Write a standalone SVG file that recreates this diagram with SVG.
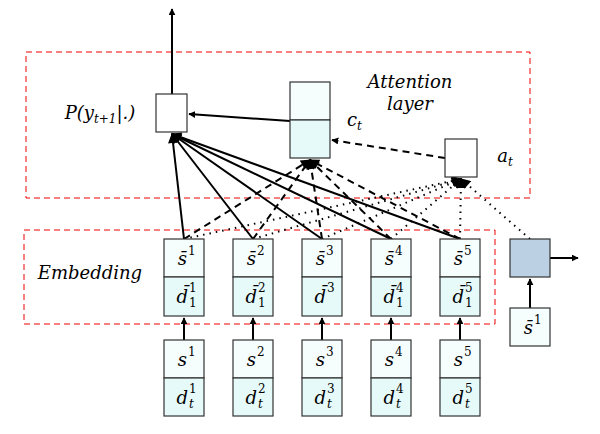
<svg xmlns="http://www.w3.org/2000/svg" width="600" height="434" viewBox="0 0 600 434">
<defs>
<marker id="ah" viewBox="0 0 10 10" refX="9" refY="5" markerWidth="7" markerHeight="7" orient="auto" markerUnits="userSpaceOnUse"><path d="M0,0L10,5L0,10z" fill="#000"/></marker>
<marker id="ahs" viewBox="0 0 10 10" refX="9" refY="5" markerWidth="12" markerHeight="10" orient="auto" markerUnits="userSpaceOnUse"><path d="M0,0L10,5L0,10z" fill="#000"/></marker>
</defs>
<style>
.b{stroke:#333;stroke-width:1.2}
.t{fill:#f5fdfd}.l{fill:#e6fafa}
text{font-family:"DejaVu Serif","Liberation Serif",serif;font-style:italic}
.tx{font-size:18px;text-anchor:middle}
.m{font-size:18px;text-anchor:end}
.s{font-size:12px;font-style:normal;text-anchor:start}
.s.i{font-style:italic}
.red{fill:none;stroke:#e00;stroke-width:1;stroke-dasharray:6,4}
.c{stroke:#000;stroke-width:2;fill:none}
.d{stroke:#000;stroke-width:2;fill:none;stroke-dasharray:7,5}
.o{stroke:#000;stroke-width:2;fill:none;stroke-dasharray:1.5,5}
</style>
<rect class="red" x="26" y="52" width="504" height="146"/>
<rect class="red" x="24" y="230" width="471" height="94"/>
<text class="tx" x="410" y="88">Attention</text>
<text class="tx" x="410" y="110">layer</text>
<text class="tx" x="90" y="279">Embedding</text>
<g id="connectors">
<line class="c" x1="172" y1="94" x2="172" y2="9" marker-end="url(#ah)"/>
<line class="c" x1="290" y1="121" x2="189" y2="114" marker-end="url(#ah)"/>
<line class="d" x1="445" y1="158" x2="332" y2="140" marker-end="url(#ah)"/>
<g marker-end="url(#ahs)">
<line class="c" x1="184" y1="239" x2="172" y2="134"/>
<line class="c" x1="253" y1="239" x2="172" y2="134"/>
<line class="c" x1="322" y1="239" x2="172" y2="134"/>
<line class="c" x1="391" y1="239" x2="172" y2="134"/>
<line class="c" x1="460" y1="239" x2="172" y2="134"/>
<line class="d" x1="184" y1="239" x2="310" y2="160"/>
<line class="d" x1="253" y1="239" x2="310" y2="160"/>
<line class="d" x1="322" y1="239" x2="310" y2="160"/>
<line class="d" x1="391" y1="239" x2="310" y2="160"/>
<line class="d" x1="460" y1="239" x2="310" y2="160"/>
<line class="o" x1="184" y1="239" x2="461" y2="179"/>
<line class="o" x1="253" y1="239" x2="461" y2="179"/>
<line class="o" x1="322" y1="239" x2="461" y2="179"/>
<line class="o" x1="391" y1="239" x2="461" y2="179"/>
<line class="o" x1="460" y1="239" x2="461" y2="179"/>
<line class="o" x1="530" y1="239" x2="461" y2="179"/>
</g>
<line class="c" x1="184" y1="340" x2="184" y2="318" marker-end="url(#ah)"/>
<line class="c" x1="253" y1="340" x2="253" y2="318" marker-end="url(#ah)"/>
<line class="c" x1="322" y1="340" x2="322" y2="318" marker-end="url(#ah)"/>
<line class="c" x1="391" y1="340" x2="391" y2="318" marker-end="url(#ah)"/>
<line class="c" x1="460" y1="340" x2="460" y2="318" marker-end="url(#ah)"/>
<line class="c" x1="530" y1="308" x2="530" y2="279" marker-end="url(#ah)"/>
<line class="c" x1="550" y1="258" x2="578" y2="258" marker-end="url(#ah)"/>
</g>
<g id="P"><rect class="b" fill="#fff" x="156" y="94" width="31" height="38"/>
<text class="tx" x="100" y="119">P(y<tspan font-size="12" dy="4">t+1</tspan><tspan dy="-4">|.)</tspan></text></g>
<g id="ct"><rect class="b t" x="290" y="82" width="40" height="38"/><rect class="b l" x="290" y="120" width="40" height="38"/>
<text class="m" x="357" y="126">c</text><text class="s i" x="357" y="130">t</text></g>
<g id="at"><rect class="b" fill="#fff" x="445" y="139" width="32" height="38"/>
<text class="m" x="508" y="162">a</text><text class="s i" x="508" y="166">t</text></g>
<g id="blue"><rect class="b" fill="#bcd0e3" x="510" y="239" width="40" height="38"/></g>
<g id="sb"><rect class="b t" x="510" y="308" width="40" height="38"/><text class="m" x="533" y="334">s̄</text><text class="s" x="534" y="324">1</text></g>
<g id="e1"><rect class="b t" x="164" y="239" width="40" height="38"/><rect class="b l" x="164" y="277" width="40" height="39"/>
<text class="m" x="187" y="265">s̄</text><text class="s" x="188" y="255">1</text>
<text class="m" x="188" y="303">d̄</text><text class="s" x="189" y="292">1</text><text class="s" x="189" y="307">1</text></g>
<g id="e2"><rect class="b t" x="233" y="239" width="40" height="38"/><rect class="b l" x="233" y="277" width="40" height="39"/>
<text class="m" x="256" y="265">s̄</text><text class="s" x="257" y="255">2</text>
<text class="m" x="257" y="303">d̄</text><text class="s" x="258" y="292">2</text><text class="s" x="258" y="307">1</text></g>
<g id="e3"><rect class="b t" x="302" y="239" width="40" height="38"/><rect class="b l" x="302" y="277" width="40" height="39"/>
<text class="m" x="325" y="265">s̄</text><text class="s" x="326" y="255">3</text>
<text class="m" x="326" y="303">d̄</text><text class="s" x="327" y="292">3</text></g>
<g id="e4"><rect class="b t" x="371" y="239" width="40" height="38"/><rect class="b l" x="371" y="277" width="40" height="39"/>
<text class="m" x="394" y="265">s̄</text><text class="s" x="395" y="255">4</text>
<text class="m" x="395" y="303">d̄</text><text class="s" x="396" y="292">4</text><text class="s" x="396" y="307">1</text></g>
<g id="e5"><rect class="b t" x="440" y="239" width="40" height="38"/><rect class="b l" x="440" y="277" width="40" height="39"/>
<text class="m" x="463" y="265">s̄</text><text class="s" x="464" y="255">5</text>
<text class="m" x="464" y="303">d̄</text><text class="s" x="465" y="292">5</text><text class="s" x="465" y="307">1</text></g>
<g id="i1"><rect class="b t" x="164" y="340" width="40" height="38"/><rect class="b l" x="164" y="378" width="40" height="38"/>
<text class="m" x="187" y="366">s</text><text class="s" x="188" y="356">1</text>
<text class="m" x="188" y="404">d</text><text class="s" x="189" y="393">1</text><text class="s i" x="189" y="408">t</text></g>
<g id="i2"><rect class="b t" x="233" y="340" width="40" height="38"/><rect class="b l" x="233" y="378" width="40" height="38"/>
<text class="m" x="256" y="366">s</text><text class="s" x="257" y="356">2</text>
<text class="m" x="257" y="404">d</text><text class="s" x="258" y="393">2</text><text class="s i" x="258" y="408">t</text></g>
<g id="i3"><rect class="b t" x="302" y="340" width="40" height="38"/><rect class="b l" x="302" y="378" width="40" height="38"/>
<text class="m" x="325" y="366">s</text><text class="s" x="326" y="356">3</text>
<text class="m" x="326" y="404">d</text><text class="s" x="327" y="393">3</text><text class="s i" x="327" y="408">t</text></g>
<g id="i4"><rect class="b t" x="371" y="340" width="40" height="38"/><rect class="b l" x="371" y="378" width="40" height="38"/>
<text class="m" x="394" y="366">s</text><text class="s" x="395" y="356">4</text>
<text class="m" x="395" y="404">d</text><text class="s" x="396" y="393">4</text><text class="s i" x="396" y="408">t</text></g>
<g id="i5"><rect class="b t" x="440" y="340" width="40" height="38"/><rect class="b l" x="440" y="378" width="40" height="38"/>
<text class="m" x="463" y="366">s</text><text class="s" x="464" y="356">5</text>
<text class="m" x="464" y="404">d</text><text class="s" x="465" y="393">5</text><text class="s i" x="465" y="408">t</text></g>
</svg>
